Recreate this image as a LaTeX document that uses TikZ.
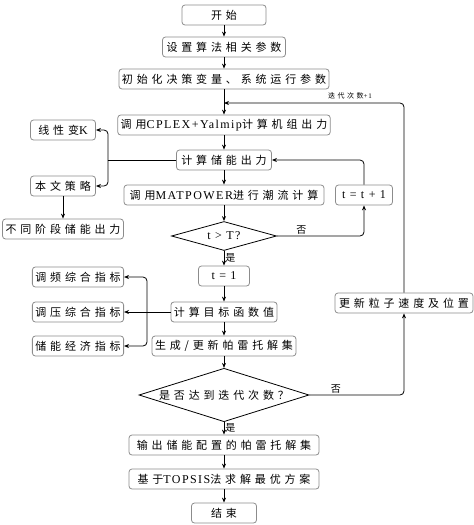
\documentclass[tikz,border=0pt]{standalone}
\usepackage{fontspec}
\setmainfont{Liberation Serif}[LetterSpace=12]
\newfontfamily\cjk[LetterSpace=35]{Noto Sans CJK SC}
\newcommand{\lat}[1]{{\fontsize{12}{13}\rmfamily #1}}
\usetikzlibrary{shapes.geometric,arrows.meta}

\begin{document}
\begin{tikzpicture}[x=1pt, y=-1pt,
    box/.style={draw=black!45, line width=0.8pt, rounded corners=3pt, minimum height=20pt,
      inner xsep=3pt, inner ysep=0pt, font=\cjk\fontsize{11}{13}\selectfont},
    dec/.style={diamond, draw=black, line width=0.8pt, aspect=3, inner sep=0pt,
      font=\cjk\fontsize{11}{13}\selectfont},
    arr/.style={-{Stealth[length=5pt, width=4pt]}, line width=0.8pt},
    note/.style={font=\cjk\fontsize{10}{12}\selectfont, inner sep=1pt}]

    \useasboundingbox (0,0) rectangle (474,525);

    % Main chain
    \node (start) at (224,15)  [box, minimum width=84pt] {开始};
    \node (set)   at (224,47)  [box, minimum width=123pt] {设置算法相关参数};
    \node (init)  at (224,79)  [box, minimum width=201pt] {初始化决策变量、系统运行参数};
    \node (cplex) at (224,125) [box, minimum width=211pt] {调用\lat{CPLEX+Yalmip}计算机组出力};
    \node (calc)  at (224,160) [box, minimum width=95pt] {计算储能出力};
    \node (flow)  at (224,195) [box, minimum width=200pt] {调用\lat{MATPOWER}进行潮流计算};
    \node (chk)   at (224,236) [dec, minimum width=105pt, minimum height=29pt] {\lat{t > T?}};
    \node (tone)  at (224,276) [box, minimum width=51pt] {\lat{t = 1}};
    \node (obj)   at (224,312) [box, minimum width=106pt] {计算目标函数值};
    \node (par)   at (224,346) [box, minimum width=137pt] {生成/更新帕雷托解集};
    \node (iter)  at (224,395) [dec, minimum width=170pt, minimum height=46pt] {是否达到迭代次数？};
    \node (out)   at (224,445) [box, minimum width=190pt] {输出储能配置的帕雷托解集};
    \node (tops)  at (224,479) [box, minimum width=190pt] {基于\lat{TOPSIS}法求解最优方案};
    \node (stop)  at (224,513) [box, minimum width=65pt] {结束};

    % Side boxes
    \node (lin)   at (63,130)  [box, minimum width=65pt] {线性变\lat{K}};
    \node (ours)  at (63,186)  [box, minimum width=65pt] {本文策略};
    \node (stage) at (63,229)  [box, minimum width=120pt] {不同阶段储能出力};
    \node (inc)   at (364,195) [box, minimum width=57pt] {\lat{t = t + 1}};
    \node (freq)  at (78,277)  [box, minimum width=90pt] {调频综合指标};
    \node (volt)  at (78,312)  [box, minimum width=90pt] {调压综合指标};
    \node (econ)  at (78,346)  [box, minimum width=88pt] {储能经济指标};
    \node (upd)   at (404,303) [box, minimum width=138pt] {更新粒子速度及位置};

    % Split points
    \coordinate (calcsplit) at (108,160);
    \coordinate (objsplit)  at (147,312);
    \coordinate (loop)      at (224,103);

    % Main arrows
    \draw[arr] (start) -- (set);
    \draw[arr] (set) -- (init);
    \draw[arr] (init) -- (cplex);
    \draw[arr] (cplex) -- (calc);
    \draw[arr] (calc) -- (flow);
    \draw[arr] (flow) -- (chk);
    \draw[arr] (chk) -- node[note, right] {是} (tone);
    \draw[arr] (tone) -- (obj);
    \draw[arr] (obj) -- (par);
    \draw[arr] (par) -- (iter);
    \draw[arr] (iter) -- node[note, right] {是} (out);
    \draw[arr] (out) -- (tops);
    \draw[arr] (tops) -- (stop);

    % Storage output branches
    \draw[line width=0.8pt] (calc.west) -- (calcsplit);
    \draw[arr, rounded corners=4pt] (calcsplit) |- (lin.east);
    \draw[arr, rounded corners=4pt] (calcsplit) |- (ours.east);
    \draw[arr] (ours) -- (stage);

    % Time loop
    \draw[arr, rounded corners=4pt] (chk.east) -| node[note, pos=0.14, above] {否} (inc.south);
    \draw[arr, rounded corners=4pt] (inc.north) |- (calc.east);

    % Indices
    \draw[arr] (obj.west) -- (volt.east);
    \draw[arr, rounded corners=4pt] (objsplit) |- (freq.east);
    \draw[arr, rounded corners=4pt] (objsplit) |- (econ.east);

    % Iteration loop
    \draw[arr, rounded corners=4pt] (iter.east) -| node[note, pos=0.14, above] {否} (upd.south);
    \draw[arr, rounded corners=4pt] (upd.north) |- node[note, pos=0.65, above=3pt, font=\cjk\fontsize{7}{8}\selectfont] {迭代次数\lat{\fontsize{7}{8}\selectfont +1}} (loop);

\end{tikzpicture}
\end{document}
